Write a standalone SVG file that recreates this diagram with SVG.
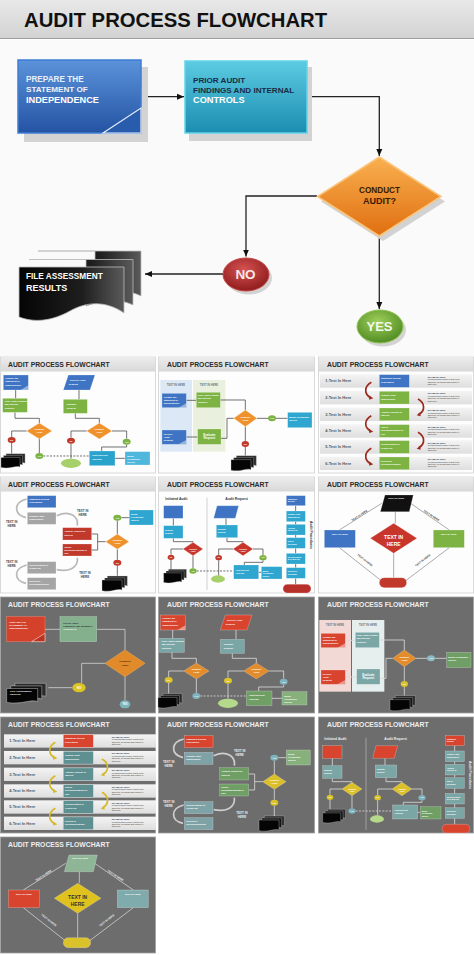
<svg xmlns="http://www.w3.org/2000/svg" xmlns:xlink="http://www.w3.org/1999/xlink" width="474" height="955" viewBox="0 0 474 955">
<style>
text{font-family:'Liberation Sans',Arial,Helvetica,sans-serif;font-weight:bold}
.fp{fill:var(--p)}.fs{fill:var(--s)}.ft{fill:var(--t)}.fu{fill:var(--u)}.fd{fill:var(--d)}.fn{fill:var(--n)}.fy{fill:var(--y)}.fb{fill:var(--b)}.fg{fill:var(--g)}.fr{fill:var(--r)}.fk{fill:var(--k)}.l1{fill:var(--l1)}.l2{fill:var(--l2)}
.ln{fill:none;stroke:var(--l);stroke-width:2.5}
.ar{fill:none;stroke:var(--a);stroke-width:5}
.fa{fill:var(--a)}
.tx{fill:var(--tx)}
.dt{fill:var(--dt)}
.w{fill:#fff}
.bx{stroke:#ffffff;stroke-opacity:.45;stroke-width:1.5}
.s7{font-size:7px}.s8{font-size:8px}.s9{font-size:9px}.s10{font-size:10px}.s12{font-size:12px;font-weight:normal}.s15{font-size:15px}
.mid{text-anchor:middle}
.pt{font-size:6.8px}
.conn{fill:none;stroke:#222;stroke-width:1.3}
</style>
<defs>
<linearGradient id="gHead" x1="0" y1="0" x2="0" y2="1"><stop offset="0" stop-color="#e8e8e8"/><stop offset="1" stop-color="#d3d3d3"/></linearGradient>
<linearGradient id="gBlue" x1="0" y1="0" x2="0" y2="1"><stop offset="0" stop-color="#5b93da"/><stop offset="1" stop-color="#2453a3"/></linearGradient>
<linearGradient id="gTeal" x1="0" y1="0" x2="0" y2="1"><stop offset="0" stop-color="#5ccbe2"/><stop offset="1" stop-color="#1b8db0"/></linearGradient>
<linearGradient id="gOr" x1="0" y1="0" x2="0" y2="1"><stop offset="0" stop-color="#f9b050"/><stop offset="1" stop-color="#e06f10"/></linearGradient>
<radialGradient id="gNo" cx="0.45" cy="0.35" r="0.7"><stop offset="0" stop-color="#d65252"/><stop offset="1" stop-color="#8a1818"/></radialGradient>
<radialGradient id="gYes" cx="0.45" cy="0.35" r="0.7"><stop offset="0" stop-color="#9ecf5a"/><stop offset="1" stop-color="#4c8720"/></radialGradient>
<linearGradient id="gDoc" x1="0" y1="0" x2="1" y2="0"><stop offset="0" stop-color="#050505"/><stop offset="0.6" stop-color="#1e1e1e"/><stop offset="1" stop-color="#5a5a5a"/></linearGradient>
<linearGradient id="gTH" x1="0" y1="0" x2="0" y2="1"><stop offset="0" stop-color="#ececec"/><stop offset="1" stop-color="#d8d8d8"/></linearGradient>
<linearGradient id="gRow" x1="0" y1="0" x2="0" y2="1"><stop offset="0" stop-color="#f4f4f4"/><stop offset="1" stop-color="#dedede"/></linearGradient>
<marker id="ah" markerWidth="8" markerHeight="8" refX="7" refY="4" orient="auto" markerUnits="userSpaceOnUse"><path d="M0,1L7,4L0,7Z" fill="#111"/></marker>

<g id="dk">
<path d="M16,0H76V30C62,24 46,38 16,32Z" fill="#2a2a2a" stroke="#cfcfcf" stroke-width="1"/>
<path d="M8,6H68V36C54,30 38,44 8,38Z" fill="#151515" stroke="#cfcfcf" stroke-width="1"/>
<path d="M0,12H60V42C46,36 30,50 0,44Z" fill="#050505" stroke="#cfcfcf" stroke-width="1"/>
</g>

<g id="vA">
<g class="ln">
<path d="M47,105V130"/><path d="M45,172V190H118V204"/><path d="M80,228H35V246"/><path d="M35,264V296"/>
<path d="M118,252V294"/><path d="M130,303H268" stroke-dasharray="6,4"/>
<path d="M237,105V133"/><path d="M226,175V190H298V204"/><path d="M260,228H213V248"/><path d="M213,266V311"/>
<path d="M336,228H380V251"/><path d="M380,269V276H305V288"/><path d="M345,310H375"/>
</g>
<rect class="fp bx" x="10" y="60" width="75" height="45"/>
<polygon points="62,105 85,91 85,105" fill="#fff" opacity=".45"/>
<rect class="fs bx" x="8" y="130" width="74" height="42"/>
<polygon class="fd bx" points="118,204 156,228 118,252 80,228"/>
<ellipse class="fn" cx="35" cy="255" rx="12" ry="9"/>
<use xlink:href="#dk" transform="translate(3,296) scale(0.95)"/>
<ellipse class="fy" cx="118" cy="303" rx="12" ry="9"/>
<polygon class="fp bx" points="205,60 285,60 270,105 190,105"/>
<rect class="fs bx" x="190" y="133" width="72" height="42"/>
<polygon class="fd bx" points="298,204 336,228 298,252 260,228"/>
<ellipse class="fn" cx="213" cy="257" rx="12" ry="9"/>
<ellipse class="fb" cx="213" cy="325" rx="30" ry="14"/>
<ellipse class="fy" cx="380" cy="260" rx="12" ry="9"/>
<rect class="ft bx" x="268" y="288" width="77" height="44"/>
<rect class="fu bx" x="375" y="290" width="75" height="40"/>
<g class="w s7">
<text x="16" y="72">Prepare the</text><text x="16" y="81">Statement of</text><text x="16" y="92">Independence</text>
<text x="14" y="142">Prior Audit Findings</text><text x="14" y="151">and Internal</text><text x="14" y="162">Controls</text>
<text x="118" y="225" class="mid">Conduct</text><text x="118" y="234" class="mid">Audit</text>
<text x="35" y="258" class="mid">No</text><text x="118" y="306" class="mid">Yes</text>
<text x="210" y="78">Receive Audit</text><text x="206" y="90">Request</text>
<text x="200" y="150">Evaluate</text><text x="200" y="162">Request</text>
<text x="298" y="225" class="mid">Conduct</text><text x="298" y="234" class="mid">Audit</text>
<text x="213" y="260" class="mid">No</text><text x="380" y="263" class="mid">Yes</text>
<text x="275" y="304">Audit Efficient</text><text x="275" y="316">AUDITEE</text>
<text x="382" y="306">Begin</text><text x="382" y="315">Preliminary</text><text x="382" y="324">Survey</text>
</g>
</g>

<g id="vB">
<rect class="l1" x="10" y="75" width="95" height="215"/>
<rect class="l2" x="108" y="75" width="97" height="215"/>
<text x="57" y="94" class="mid s8" fill="#6a7888">TEXT IN HERE</text>
<text x="156" y="94" class="mid s8" fill="#6a7888">TEXT IN HERE</text>
<g class="ln">
<path d="M88,136H118"/><path d="M88,246H122"/><path d="M190,135H265V165"/><path d="M192,250H210V190H230"/>
<path d="M300,190H333"/><path d="M357,190H392"/><path d="M265,215V258"/><path d="M265,276V302"/>
</g>
<rect class="fp bx" x="15" y="115" width="73" height="43"/><polygon points="64,158 88,145 88,158" fill="#fff" opacity=".45"/>
<rect class="fp bx" x="15" y="225" width="73" height="43"/><polygon points="64,268 88,255 88,268" fill="#fff" opacity=".45"/>
<rect class="fs bx" x="118" y="112" width="72" height="46"/>
<rect class="fs bx" x="122" y="222" width="70" height="46"/>
<polygon class="fd bx" points="265,165 300,190 265,215 230,190"/>
<ellipse class="fy" cx="345" cy="190" rx="12" ry="9"/>
<rect class="fu bx" x="392" y="172" width="73" height="46"/>
<ellipse class="fn" cx="265" cy="267" rx="11" ry="9"/>
<use xlink:href="#dk" transform="translate(222,302)"/>
<g class="w s7">
<text x="20" y="128">Prepare the</text><text x="20" y="137">Statement of</text><text x="20" y="147">Independence</text>
<text x="20" y="240">Receive</text><text x="20" y="249">Audit</text><text x="20" y="259">Request</text>
<text x="122" y="124">Prior Audit Finding</text><text x="122" y="133">and Internal</text><text x="122" y="144">Controls</text>
<text x="157" y="242" class="mid s9">Evaluate</text><text x="157" y="253" class="mid s9">Request</text>
<text x="265" y="188" class="mid">Conduct</text><text x="265" y="197" class="mid">Audit</text>
<text x="345" y="193" class="mid">Yes</text><text x="265" y="270" class="mid">No</text>
<text x="397" y="188">Begin Preliminary</text><text x="397" y="197">Survey</text>
</g>
</g>

<g id="vC">
<g id="cRows">
<rect x="12" y="58" width="456" height="40" fill="url(#gRow)"/>
<rect x="12" y="108" width="456" height="40" fill="url(#gRow)"/>
<rect x="12" y="158" width="456" height="40" fill="url(#gRow)"/>
<rect x="12" y="208" width="456" height="40" fill="url(#gRow)"/>
<rect x="12" y="256" width="456" height="40" fill="url(#gRow)"/>
<rect x="12" y="305" width="456" height="40" fill="url(#gRow)"/>
</g>
<g fill="#555" class="s12">
<text x="28" y="82">1.Text In Here</text><text x="28" y="132">2.Text In Here</text><text x="28" y="182">3.Text In Here</text>
<text x="28" y="232">4.Text In Here</text><text x="28" y="280">5.Text In Here</text><text x="28" y="329">6.Text In Here</text>
</g>
<rect class="fp bx" x="190" y="59" width="90" height="38"/>
<rect class="fs bx" x="190" y="109" width="90" height="38"/>
<rect class="fs bx" x="190" y="159" width="90" height="38"/>
<rect class="fs bx" x="190" y="209" width="90" height="38"/>
<rect class="fs bx" x="190" y="257" width="90" height="38"/>
<rect class="fs bx" x="190" y="306" width="90" height="38"/>
<g class="w s7">
<text x="195" y="73">Statistical Review</text><text x="195" y="84">Procedures</text>
<text x="195" y="123">Testing Audit</text><text x="195" y="134">Employment</text>
<text x="195" y="173">Analyze Conflict of</text><text x="195" y="184">Interest</text>
<text x="195" y="220">Check</text><text x="195" y="229">Reconsiderations of</text><text x="195" y="239">Pay</text>
<text x="195" y="271">Reconciliation of</text><text x="195" y="282">Gross Pay</text>
<text x="195" y="320">Review of</text><text x="195" y="331">Reconsiderations</text>
</g>
<g class="ar">
<path d="M166,82C144,94 144,118 164,128"/><path d="M166,182C144,194 144,218 164,228"/><path d="M166,280C144,292 144,316 164,326"/>
<path d="M306,132C328,144 328,168 308,178"/><path d="M306,232C328,244 328,268 308,278"/>
</g>
<g class="fa">
<polygon points="158,121 172,130 160,134"/><polygon points="158,221 172,230 160,234"/><polygon points="158,319 172,328 160,332"/>
<polygon points="313,172 302,181 314,184"/><polygon points="313,272 302,281 314,284"/>
</g>
<g id="cTxt">
<text x="335" y="68" class="s7" fill="#333">EXAMPLE TEXT</text>
<text x="335" y="76" font-size="6" font-weight="normal" fill="#666">Go ahead and replace it with your</text>
<text x="335" y="83" font-size="6" font-weight="normal" fill="#666">own text. Go ahead and replace it</text>
<text x="335" y="90" font-size="6" font-weight="normal" fill="#666">with your</text>
</g>
<use xlink:href="#cTxt" y="50"/><use xlink:href="#cTxt" y="100"/><use xlink:href="#cTxt" y="150"/><use xlink:href="#cTxt" y="198"/><use xlink:href="#cTxt" y="247"/>
</g>

<g id="vD">
<g class="ar">
<path d="M80,72C40,82 40,118 78,128"/><path d="M170,122C210,104 236,125 232,152"/>
<path d="M232,248C236,278 206,292 170,284"/><path d="M80,270C40,280 40,318 78,325"/>
</g>
<g class="ln">
<path d="M275,177H293V225H275"/><path d="M293,200H317"/>
<path d="M352,177V137"/><path d="M364,128H388"/><path d="M352,223V254"/><path d="M352,272V303"/>
</g>
<rect class="fp bx" x="82" y="62" width="86" height="36"/>
<rect class="fg bx" x="82" y="112" width="86" height="36"/>
<rect class="fr bx" x="188" y="158" width="87" height="37"/>
<rect class="fr bx" x="188" y="207" width="87" height="36"/>
<rect class="fg bx" x="82" y="260" width="86" height="36"/>
<rect class="fg bx" x="82" y="308" width="86" height="36"/>
<polygon class="fd bx" points="352,177 387,200 352,223 317,200"/>
<ellipse class="fy" cx="352" cy="128" rx="12" ry="9"/>
<rect class="fu bx" x="388" y="105" width="72" height="45"/>
<ellipse class="fn" cx="352" cy="263" rx="12" ry="9"/>
<use xlink:href="#dk" transform="translate(306,303)"/>
<g class="tx s9 mid">
<text x="35" y="143">TEXT IN</text><text x="35" y="155">HERE</text>
<text x="248" y="110">TEXT IN</text><text x="248" y="122">HERE</text>
<text x="35" y="263">TEXT IN</text><text x="35" y="275">HERE</text>
<text x="255" y="297">TEXT IN</text><text x="255" y="309">HERE</text>
</g>
<g class="w s7">
<text x="88" y="75">Statistical Review</text><text x="88" y="85">Procedures</text>
<text x="88" y="125">Testing Audit</text><text x="88" y="135">Employment</text>
<text x="193" y="172">Analyze Conflict of</text><text x="193" y="182">Interest</text>
<text x="193" y="219">Check</text><text x="193" y="228">Reconsiderations of</text><text x="193" y="238">Pay</text>
<text x="88" y="273">Reconciliation of</text><text x="88" y="283">Gross Pay</text>
<text x="88" y="321">Review of</text><text x="88" y="331">Reconsiderations</text>
<text x="352" y="198" class="mid">Conduct</text><text x="352" y="207" class="mid">Audit</text>
<text x="352" y="131" class="mid">Yes</text><text x="352" y="266" class="mid">No</text>
<text x="393" y="120">Begin</text><text x="393" y="129">Preliminary</text><text x="393" y="138">Survey</text>
</g>
</g>

<g id="vE">
<text x="25" y="75" class="s10 tx">Initiated Audit</text>
<text x="205" y="75" class="s10 tx">Audit Request</text>
<path d="M150,68V345" stroke="#bbb" stroke-width="2" fill="none"/>
<g class="ln">
<path d="M49,130V152"/><path d="M49,190V200H108V202"/><path d="M78,222H42V239"/><path d="M42,255V285"/>
<path d="M108,242V280"/><path d="M119,288H230" stroke-dasharray="6,4"/>
<path d="M207,130V150"/><path d="M210,188V200H258V202"/><path d="M228,222H185V240"/><path d="M185,256V302"/>
<path d="M288,222H318V240"/><path d="M318,256V262H262V270"/><path d="M305,292H313"/>
<path d="M416,92V108M416,140V148M416,180V188M416,220V235M416,267V278M416,310V328"/>
</g>
<rect class="fp bx" x="20" y="92" width="58" height="38"/>
<rect class="ft bx" x="20" y="152" width="58" height="38"/>
<polygon class="fd bx" points="108,202 138,222 108,242 78,222"/>
<ellipse class="fn" cx="42" cy="247" rx="10" ry="8"/>
<use xlink:href="#dk" transform="translate(20,283) scale(0.9)"/>
<ellipse class="fy" cx="108" cy="288" rx="11" ry="8"/>
<polygon class="fp bx" points="180,92 245,92 235,130 170,130"/>
<rect class="ft bx" x="178" y="150" width="64" height="38"/>
<polygon class="fd bx" points="258,202 288,222 258,242 228,222"/>
<ellipse class="fn" cx="185" cy="248" rx="10" ry="8"/>
<ellipse class="fb" cx="183" cy="312" rx="21" ry="11"/>
<ellipse class="fy" cx="318" cy="248" rx="11" ry="8"/>
<rect class="ft bx" x="230" y="270" width="75" height="42"/>
<rect class="fu bx" x="313" y="275" width="62" height="37"/>
<rect class="fp bx" x="388" y="62" width="57" height="30"/>
<rect class="ft bx" x="388" y="108" width="57" height="32"/>
<rect class="ft bx" x="388" y="148" width="57" height="32"/>
<rect class="ft bx" x="388" y="188" width="57" height="32"/>
<rect class="ft bx" x="388" y="235" width="57" height="32"/>
<rect class="ft bx" x="388" y="278" width="57" height="32"/>
<rect class="fr bx" x="378" y="328" width="84" height="26" rx="13"/>
<text transform="translate(458,180) rotate(90)" class="s10 tx mid">Audit Procedures</text>
<g class="w" font-size="6">
<text x="108" y="224" class="mid">Conduct</text><text x="108" y="231" class="mid">Audit</text>
<text x="258" y="224" class="mid">Conduct</text><text x="258" y="231" class="mid">Audit</text>
<text x="42" y="249" class="mid">No</text><text x="185" y="250" class="mid">No</text>
<text x="108" y="290" class="mid">Yes</text><text x="318" y="250" class="mid">Yes</text>
<text x="24" y="168">Evaluate</text><text x="24" y="176">Request</text>
<text x="182" y="166">Evaluate</text><text x="182" y="174">Request</text>
<text x="235" y="288">Audit Efficient</text><text x="235" y="297">AUDITEE</text>
<text x="317" y="290">Begin</text><text x="317" y="298">Preliminary</text><text x="317" y="306">Survey</text>
<text x="392" y="74">Statistical</text><text x="392" y="82">Review</text>
<text x="392" y="121">Testing Audit</text><text x="392" y="129">Employment</text>
<text x="392" y="161">Analyze</text><text x="392" y="169">Conflict of</text>
<text x="392" y="201">Check</text><text x="392" y="209">Reconsid.</text>
<text x="392" y="248">Reconciliation</text><text x="392" y="256">of Gross Pay</text>
<text x="392" y="291">Review of</text><text x="392" y="299">Reconsid.</text>
</g>
</g>

<g id="vF">
<g class="ln">
<path d="M197,85L70,165"/><path d="M284,85L400,165"/><path d="M70,218L197,318"/><path d="M400,218L268,318"/>
<path d="M238,110V145"/><path d="M233,235V308"/>
</g>
<polygon class="fk bx" points="207,60 292,60 280,110 193,110"/>
<rect class="fp bx" x="25" y="165" width="93" height="53"/>
<rect class="fs bx" x="352" y="165" width="93" height="53"/>
<rect class="fn bx" x="190" y="308" width="82" height="30" rx="15"/>
<polygon class="fd bx" points="233,145 303,190 233,235 163,190"/>
<text x="233" y="193" class="dt s15 mid">TEXT IN</text>
<text x="233" y="212" class="dt s15 mid">HERE</text>
<g class="tx s8 mid">
<text transform="translate(132,124) rotate(-33)">TEXT IN HERE</text>
<text transform="translate(345,124) rotate(33)">TEXT IN HERE</text>
<text transform="translate(145,258) rotate(38)">TEXT IN HERE</text>
<text transform="translate(322,258) rotate(-38)">TEXT IN HERE</text>
</g>
<g class="w s7">
<text x="240" y="73" class="mid">TEXT IN HERE</text>
<text x="71" y="180" class="mid">TEXT IN HERE</text>
<text x="398" y="180" class="mid">TEXT IN HERE</text>
</g>
</g>
</defs>

<rect width="474" height="955" fill="#ffffff"/>

<!-- Header -->
<g id="header">
<rect x="0" y="0" width="474" height="38" fill="url(#gHead)"/>
<line x1="0" y1="38.5" x2="474" y2="38.5" stroke="#9c9c9c" stroke-width="1.2"/>
<text x="24" y="27" font-size="20.3" fill="#111">AUDIT PROCESS FLOWCHART</text>
</g>
<rect x="0" y="40" width="474" height="316" fill="#fafafa"/>

<!-- Connectors -->
<g id="connectors">
<path class="conn" d="M141,96.7H184" marker-end="url(#ah)"/>
<path class="conn" d="M307,96.7H379.3V156" marker-end="url(#ah)"/>
<path class="conn" d="M317,196H246V256.5" marker-end="url(#ah)"/>
<path class="conn" d="M223,274H145" marker-end="url(#ah)"/>
<path class="conn" d="M379.3,237V309" marker-end="url(#ah)"/>
</g>

<g id="node-prepare">
<rect x="24" y="67" width="124" height="75" fill="#d3d3d3"/>
<rect x="18" y="60" width="123" height="73" fill="url(#gBlue)" stroke="#3f7dd3" stroke-width="1.5"/>
<polygon points="103,133 141,108 141,133" fill="#2a5cae" stroke="#e6f0ff" stroke-width="1.2"/>
<text x="26" y="82" font-size="8.2" fill="#e8eef8">PREPARE THE</text>
<text x="26" y="92.3" font-size="8.1" fill="#eef3fb">STATEMENT OF</text>
<text x="26" y="103" font-size="9.2" fill="#ffffff">INDEPENDENCE</text>
</g>

<g id="node-prior">
<rect x="189" y="67" width="123" height="74" fill="#d3d3d3"/>
<rect x="185" y="61" width="122" height="72" fill="url(#gTeal)" stroke="#63d3ea" stroke-width="1.5"/>
<text x="193" y="82.7" font-size="8.1" fill="#1b2b45">PRIOR AUDIT</text>
<text x="193" y="92.7" font-size="8.1" fill="#1b2b45">FINDINGS AND INTERNAL</text>
<text x="193" y="103.3" font-size="9.2" fill="#ffffff">CONTROLS</text>
</g>

<g id="node-conduct">
<polygon points="383,162 445,201.5 383,241 321,201.5" fill="#d2d2d2"/>
<polygon points="379.3,157 441,196.5 379.3,236 317.5,196.5" fill="url(#gOr)" stroke="#fbc47a" stroke-width="1.5"/>
<text x="379.5" y="193.3" font-size="8.2" fill="#3a1a00" text-anchor="middle">CONDUCT</text>
<text x="379.5" y="204.3" font-size="9" fill="#3a1a00" text-anchor="middle">AUDIT?</text>
</g>

<g id="node-no">
<ellipse cx="249" cy="278" rx="23" ry="16.5" fill="#d3d3d3"/>
<ellipse cx="246" cy="274.5" rx="23" ry="16.5" fill="url(#gNo)" stroke="#c54848" stroke-width="1"/>
<text x="245.5" y="279" font-size="13.5" fill="#f7e8e8" text-anchor="middle">NO</text>
</g>

<g id="node-yes">
<ellipse cx="383" cy="330" rx="23" ry="16.5" fill="#d3d3d3"/>
<ellipse cx="380" cy="326.5" rx="23" ry="16.5" fill="url(#gYes)" stroke="#8fc450" stroke-width="1"/>
<text x="379.5" y="331.3" font-size="13" fill="#f4f9ec" text-anchor="middle">YES</text>
</g>

<g id="node-file">
<path d="M38,251H141V296C125,288 108,292 95,298L95,251Z" fill="url(#gDoc)" stroke="#bdbdbd" stroke-width="0.8"/>
<path d="M29,259.5H133V305C116,297 100,301 86,306L86,259.5Z" fill="url(#gDoc)" stroke="#bdbdbd" stroke-width="0.8"/>
<path d="M19,267H124V313C105,300 86,302 70,311C52,321 35,323 19,317Z" fill="url(#gDoc)" stroke="#bdbdbd" stroke-width="0.8"/>
<text x="26" y="279.3" font-size="8.25" fill="#ffffff">FILE ASSESSMENT</text>
<text x="26" y="290.7" font-size="9" fill="#ffffff">RESULTS</text>
</g>

<!-- Thumbnails: panels -->
<g id="thumb-panels">
<g id="lightPanels" fill="#fdfdfd" stroke="#d0d0d0" stroke-width="0.8">
<rect x="0.5" y="357" width="155" height="116"/><rect x="158.5" y="357" width="156" height="116"/><rect x="318.5" y="357" width="155" height="116"/>
<rect x="0.5" y="477" width="155" height="116"/><rect x="158.5" y="477" width="156" height="116"/><rect x="318.5" y="477" width="155" height="116"/>
</g>
<g fill="url(#gTH)">
<rect x="1" y="357.5" width="154" height="14"/><rect x="159" y="357.5" width="155" height="14"/><rect x="319" y="357.5" width="154" height="14"/>
<rect x="1" y="477.5" width="154" height="14"/><rect x="159" y="477.5" width="155" height="14"/><rect x="319" y="477.5" width="154" height="14"/>
</g>
<g fill="#6d6d6d" stroke="#a0a0a0" stroke-width="0.8">
<rect x="0.5" y="597" width="155" height="116"/><rect x="158.5" y="597" width="156" height="116"/><rect x="318.5" y="597" width="155" height="116"/>
<rect x="0.5" y="717" width="155" height="116"/><rect x="158.5" y="717" width="156" height="116"/><rect x="318.5" y="717" width="155" height="116"/>
<rect x="0.5" y="837" width="155" height="116"/>
</g>
<g class="pt" fill="#2a2a2a">
<text x="8" y="367">AUDIT PROCESS FLOWCHART</text><text x="167" y="367">AUDIT PROCESS FLOWCHART</text><text x="327" y="367">AUDIT PROCESS FLOWCHART</text>
<text x="8" y="487">AUDIT PROCESS FLOWCHART</text><text x="167" y="487">AUDIT PROCESS FLOWCHART</text><text x="327" y="487">AUDIT PROCESS FLOWCHART</text>
</g>
<g class="pt" fill="#eeeeee">
<text x="8" y="607">AUDIT PROCESS FLOWCHART</text><text x="167" y="607">AUDIT PROCESS FLOWCHART</text><text x="327" y="607">AUDIT PROCESS FLOWCHART</text>
<text x="8" y="727">AUDIT PROCESS FLOWCHART</text><text x="167" y="727">AUDIT PROCESS FLOWCHART</text><text x="327" y="727">AUDIT PROCESS FLOWCHART</text>
<text x="8" y="847">AUDIT PROCESS FLOWCHART</text>
</g>
</g>

<!-- Thumbnail contents -->
<g id="thumb-contents">
<use xlink:href="#vA" transform="translate(0,355) scale(0.3333)" style="--p:#3f74c4;--s:#7cb342;--t:#29a3cc;--u:#4fb6dc;--d:#f0922c;--n:#c0392b;--y:#7cb342;--b:#a6d06a;--l:#555"/>
<use xlink:href="#vB" transform="translate(157,355) scale(0.3333)" style="--p:#3f74c4;--s:#7cb342;--u:#2ea6cf;--d:#f0922c;--n:#c0392b;--y:#7cb342;--l:#555;--l1:#dce8f6;--l2:#e9f1de"/>
<use xlink:href="#vC" transform="translate(316,355) scale(0.3333)" style="--p:#3f74c4;--s:#7cb342;--a:#9b2a1e"/>
<use xlink:href="#vD" transform="translate(0,475) scale(0.3333)" style="--p:#3f74c4;--g:#a5a5a5;--r:#c0392b;--u:#2ea6cf;--d:#f0922c;--n:#c0392b;--y:#7cb342;--l:#555;--a:#b8b8b8;--tx:#444"/>
<use xlink:href="#vE" transform="translate(157,475) scale(0.3333)" style="--p:#3f74c4;--t:#2ea6cf;--u:#2ea6cf;--d:#c8352a;--n:#c0392b;--y:#7cb342;--b:#a6d06a;--l:#555;--r:#b8302a;--tx:#333"/>
<use xlink:href="#vF" transform="translate(316,475) scale(0.3333)" style="--k:#111;--p:#3f74c4;--s:#7cb342;--d:#c8352a;--n:#c0392b;--l:#9a9a9a;--dt:#fff;--tx:#444"/>

<g id="thumb-main-dark" transform="translate(0,595) scale(0.3333)">
<g fill="none" stroke="#d0d0d0" stroke-width="2.5">
<path d="M135,103H180"/><path d="M290,103H375V165"/><path d="M315,205H245V264"/><path d="M217,278H145"/><path d="M375,245V316"/>
</g>
<rect x="20" y="65" width="115" height="75" fill="#d4422c" stroke="#f08070" stroke-width="1.5"/>
<polygon points="95,140 135,115 135,140" fill="#b83420" stroke="#fff" stroke-width="1.5"/>
<rect x="180" y="65" width="110" height="75" fill="#84b08e" stroke="#b0d0b8" stroke-width="1.5"/>
<polygon points="375,165 435,205 375,245 315,205" fill="#e08a2a" stroke="#f5b060" stroke-width="1.5"/>
<ellipse cx="237" cy="278" rx="20" ry="14" fill="#dcc424"/>
<ellipse cx="375" cy="328" rx="16" ry="12" fill="#80b4bc"/>
<use xlink:href="#dk" transform="translate(20,265) scale(1.55,1.3)"/>
<g font-size="7" fill="#fff">
<text x="28" y="84">PREPARE THE</text><text x="28" y="93">STATEMENT OF</text><text x="28" y="103">INDEPENDENCE</text>
<text x="190" y="86" fill="#223">PRIOR AUDIT</text><text x="190" y="95" fill="#223">FINDINGS AND INTERNAL</text><text x="190" y="105">CONTROLS</text>
<text x="375" y="202" text-anchor="middle" fill="#3a1a00">CONDUCT</text><text x="375" y="212" text-anchor="middle" fill="#3a1a00">AUDIT</text>
<text x="237" y="282" text-anchor="middle" font-size="9">NO</text><text x="375" y="331" text-anchor="middle" font-size="8">YES</text>
<text x="30" y="290">FILE ASSESSMENT</text><text x="30" y="299">RESULTS</text>
</g>
</g>

<use xlink:href="#vA" transform="translate(157,595) scale(0.3333)" style="--p:#d8442e;--s:#7aa6a6;--t:#6f9f64;--u:#86b07c;--d:#e38c2c;--n:#d9c22a;--y:#7fb3bd;--b:#b5d98a;--l:#d8d8d8"/>
<use xlink:href="#vB" transform="translate(316,595) scale(0.3333)" style="--p:#d8442e;--s:#7aa6a6;--u:#6f9f64;--d:#e38c2c;--n:#d9c22a;--y:#8bbcc4;--l:#d8d8d8;--l1:#f2d9d6;--l2:#e6eeee"/>
<use xlink:href="#vC" transform="translate(0,715) scale(0.3333)" style="--p:#d8442e;--s:#5e8f91;--a:#d6b828"/>
<use xlink:href="#vD" transform="translate(157,715) scale(0.3333)" style="--p:#d8442e;--g:#7ea2a6;--r:#6f9f64;--u:#86b07c;--d:#dcc02a;--n:#d9c22a;--y:#7fb3bd;--l:#d8d8d8;--a:#cfcfcf;--tx:#eee"/>
<use xlink:href="#vE" transform="translate(316,715) scale(0.3333)" style="--p:#d8442e;--t:#7aa6a6;--u:#6f9f64;--d:#dcc02a;--n:#d9c22a;--y:#7fb3bd;--b:#b5d98a;--l:#d8d8d8;--r:#d8442e;--tx:#eee"/>
<use xlink:href="#vF" transform="translate(0,835) scale(0.3333)" style="--k:#8fb597;--p:#d8442e;--s:#7fabad;--d:#e0c21e;--n:#d9c22a;--l:#cccccc;--dt:#333;--tx:#eee"/>
</g>
</svg>
